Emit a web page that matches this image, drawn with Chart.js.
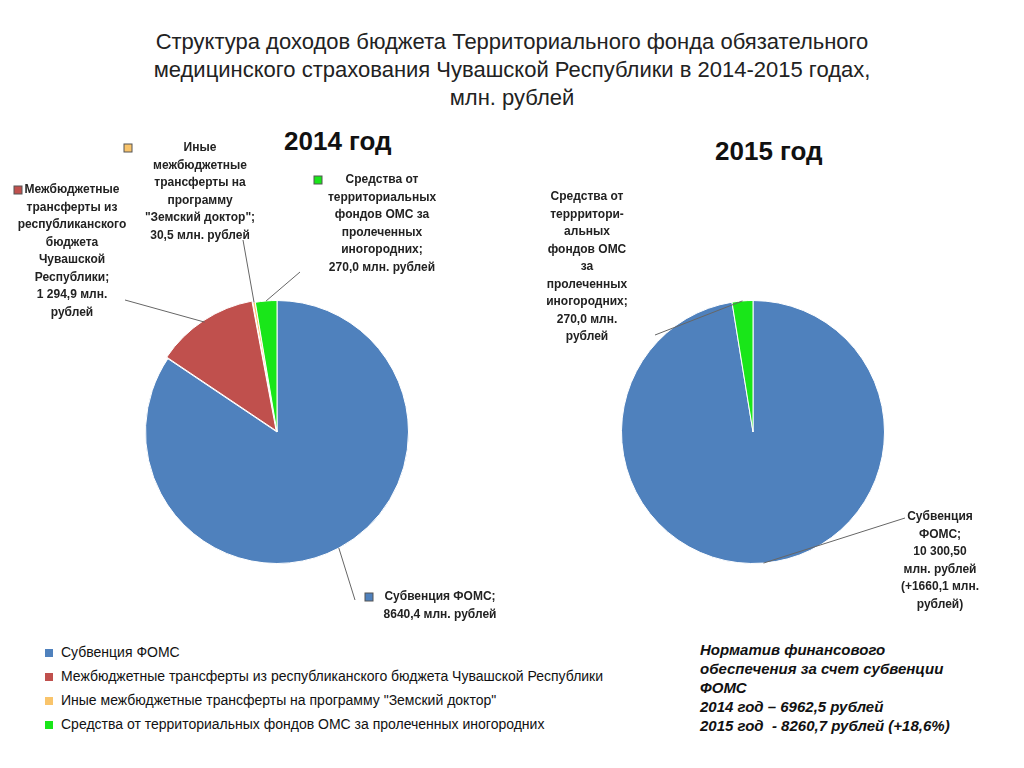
<!DOCTYPE html>
<html><head><meta charset="utf-8">
<script src="https://cdn.jsdelivr.net/npm/chart.js@4/dist/chart.umd.min.js"></script>
<style>
body{margin:0;width:1024px;height:768px;background:#fff;font-family:"Liberation Sans",Arial,sans-serif;position:relative;overflow:hidden}
#title{position:absolute;top:28px;left:0;width:1024px;text-align:center;font-size:22px;line-height:28px;color:#222}
.yr{position:absolute;font-weight:bold;font-size:26px;color:#111}
canvas{position:absolute}
#legend{position:absolute;left:45px;top:640px;font-size:14px;color:#111}
#legend div{height:24px;line-height:24px}
#legend span{display:inline-block;width:8px;height:8px;margin-right:8px;vertical-align:middle}
#note{position:absolute;left:700px;top:640px;font-size:15px;line-height:19px;font-weight:bold;font-style:italic;color:#111}
</style></head><body>
<div id="title">Структура доходов бюджета Территориального фонда обязательного<br>медицинского страхования Чувашской Республики в 2014-2015 годах,<br>млн. рублей</div>
<div class="yr" style="left:284px;top:126px">2014 год</div>
<div class="yr" style="left:715px;top:136px">2015 год</div>
<div style="position:absolute;left:0;top:120px;width:554px;height:520px"><canvas id="c1"></canvas></div>
<div style="position:absolute;left:500px;top:120px;width:524px;height:520px"><canvas id="c2"></canvas></div>
<div id="legend"></div>
<div id="note">Норматив финансового<br>обеспечения за счет субвенции<br>ФОМС<br>2014 год – 6962,5 рублей<br>2015 год &nbsp;- 8260,7 рублей (+18,6%)</div>
<script>
const categories=["Субвенция ФОМС","Межбюджетные трансферты из республиканского бюджета Чувашской Республики","Иные межбюджетные трансферты на программу \"Земский доктор\"","Средства от территориальных фондов ОМС за пролеченных иногородних"];
const values2014=[8640.4,1294.9,30.5,270.0];
const values2015=[10300.5,0,0,270.0];
const colors=["#4F81BD","#C0504D","#F9C46B","#19E619"];
const labels2014=[
 ["Субвенция ФОМС;","8640,4 млн. рублей"],
 ["Межбюджетные","трансферты из","республиканского","бюджета","Чувашской","Республики;","1 294,9 млн.","рублей"],
 ["Иные","межбюджетные","трансферты на","программу","\"Земский доктор\";","30,5 млн. рублей"],
 ["Средства от","территориальных","фондов ОМС за","пролеченных","иногородних;","270,0 млн. рублей"]];
const labels2015=[
 ["Субвенция","ФОМС;","10 300,50","млн. рублей","(+1660,1 млн.","рублей)"],[],[],
 ["Средства от","террритори-","альных","фондов ОМС","за","пролеченных","иногородних;","270,0 млн.","рублей"]];

document.getElementById('legend').innerHTML=categories.map((c,i)=>`<div><span style="background:${colors[i]}"></span>${c}</div>`).join('');

function labelPlugin(texts,pos){return{id:'lbl',afterDraw(ch){
 const ctx=ch.ctx;ctx.save();ctx.font='bold 12px "Liberation Sans",Arial';ctx.fillStyle='#222';ctx.textAlign='center';ctx.textBaseline='middle';
 ch.getDatasetMeta(0).data.forEach((a,i)=>{const p=pos[i];if(!p||!texts[i].length)return;
  const m=(a.startAngle+a.endAngle)/2;const x0=a.x+Math.cos(m)*a.outerRadius,y0=a.y+Math.sin(m)*a.outerRadius;
  ctx.strokeStyle='#666';ctx.lineWidth=1;ctx.beginPath();ctx.moveTo(x0,y0);ctx.lineTo(p.lx,p.ly);ctx.stroke();
  texts[i].forEach((t,k)=>{let tx=t;ctx.fillText(tx,p.x,p.y+k*17.5);});
  if(p.sq){ctx.fillStyle=colors[i];ctx.fillRect(p.sq[0],p.sq[1]-4,8,8);ctx.strokeStyle='#555';ctx.strokeRect(p.sq[0],p.sq[1]-4,8,8);ctx.fillStyle='#222';}
 });ctx.restore();}}}

function mk(id,vals,texts,pos,pad,offs){
 new Chart(document.getElementById(id),{type:'pie',
  data:{labels:categories,datasets:[{data:vals,backgroundColor:colors,borderColor:'#fff',borderWidth:1,offset:offs}]},
  options:{responsive:true,maintainAspectRatio:false,animation:false,layout:{padding:pad},
   plugins:{legend:{display:false},tooltip:{enabled:false}}},
  plugins:[labelPlugin(texts,pos)]});
}
mk('c1',values2014,labels2014,[
 {x:440,y:477,lx:355,ly:480,sq:[365,477]},
 {x:72,y:70,lx:125,ly:180,sq:[14,70]},
 {x:200,y:28,lx:243,ly:120,sq:[124,28]},
 {x:382,y:60,lx:300,ly:152,sq:[314,60]}],
 {left:142,right:142,top:177,bottom:73},[0,6,0,0]);
mk('c2',values2015,labels2015,[
 {x:440,y:397,lx:405,ly:398},null,null,
 {x:87,y:77,lx:155,ly:215}],
 {left:121,right:139,top:180,bottom:76},[0,0,0,0]);
</script></body></html>
